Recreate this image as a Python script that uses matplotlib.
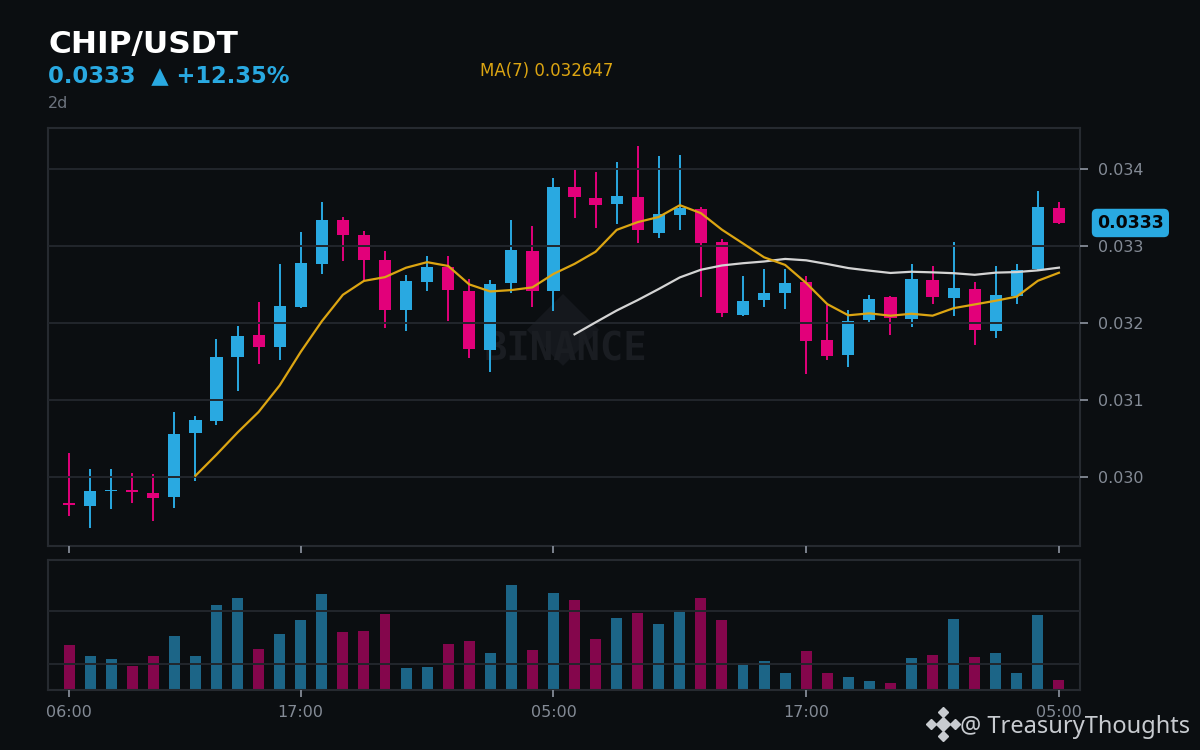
import numpy as np
import pandas as pd
import matplotlib
matplotlib.use("Agg")
import matplotlib.pyplot as plt
from matplotlib.lines import Line2D
from matplotlib.patches import Polygon
from matplotlib.ticker import FormatStrFormatter
import matplotlib.transforms as mtransforms

# --- hourly candles CHIP/USDT, 06:00 day 1 -> 05:00 day 3 ---
opens = [0.029656, 0.029627, 0.029815, 0.029831, 0.029788, 0.029744, 0.030575, 0.030731,
         0.031558, 0.031844, 0.031688, 0.032208, 0.032770, 0.033338, 0.033143, 0.032818,
         0.032173, 0.032536, 0.032727, 0.032416, 0.031653, 0.032519, 0.032935, 0.032419,
         0.033766, 0.033623, 0.033549, 0.033636, 0.033173, 0.033406, 0.033481, 0.033048,
         0.032108, 0.032303, 0.032394, 0.032532, 0.031779, 0.031588, 0.032043, 0.032338,
         0.032056, 0.032558, 0.032329, 0.032442, 0.031900, 0.032355, 0.032701, 0.033494]
highs = [0.030308, 0.030100, 0.030100, 0.030048, 0.030035, 0.030840, 0.030792, 0.031792,
         0.031961, 0.032273, 0.032766, 0.033182, 0.033571, 0.033373, 0.033195, 0.032935,
         0.032623, 0.032870, 0.032870, 0.032571, 0.032558, 0.033338, 0.033260, 0.033879,
         0.033996, 0.033961, 0.034091, 0.034299, 0.034169, 0.034182, 0.033503, 0.033091,
         0.032610, 0.032697, 0.032701, 0.032610, 0.032238, 0.032165, 0.032364, 0.032351,
         0.032766, 0.032740, 0.033052, 0.032532, 0.032740, 0.032766, 0.033714, 0.033571]
lows = [0.029497, 0.029342, 0.029588, 0.029666, 0.029432, 0.029601, 0.029952, 0.030679,
        0.031121, 0.031471, 0.031523, 0.032199, 0.032640, 0.032809, 0.032549, 0.031939,
        0.031900, 0.032419, 0.032030, 0.031549, 0.031368, 0.032394, 0.032212, 0.032160,
        0.033368, 0.033238, 0.033290, 0.033043, 0.033108, 0.033204, 0.032334, 0.032082,
        0.032095, 0.032212, 0.032186, 0.031342, 0.031523, 0.031432, 0.031991, 0.031848,
        0.031952, 0.032251, 0.032095, 0.031718, 0.031809, 0.032251, 0.032690, 0.033286]
closes = [0.029636, 0.029818, 0.029820, 0.029809, 0.029731, 0.030558, 0.030740, 0.031558,
          0.031831, 0.031688, 0.032221, 0.032779, 0.033338, 0.033147, 0.032822, 0.032173,
          0.032545, 0.032727, 0.032432, 0.031662, 0.032506, 0.032948, 0.032419, 0.033766,
          0.033640, 0.033536, 0.033649, 0.033212, 0.033416, 0.033490, 0.033043, 0.032134,
          0.032286, 0.032390, 0.032519, 0.031770, 0.031575, 0.032026, 0.032312, 0.032069,
          0.032571, 0.032342, 0.032455, 0.031913, 0.032364, 0.032688, 0.033506, 0.033299]
# volume in thousands
volumes = [865, 654, 596, 462, 654, 1038, 654, 1615, 1750, 788, 1077, 1327,
           1827, 1115, 1135, 1442, 423, 442, 885, 942, 712, 2000, 769, 1846,
           1712, 981, 1365, 1462, 1269, 1519, 1750, 1327, 481, 558, 327, 750,
           327, 250, 173, 135, 615, 673, 1346, 635, 712, 327, 1423, 192]

tick_idx = [0, 11, 23, 35, 47]
tick_labels = ["06:00", "17:00", "05:00", "17:00", "05:00"]
price_ticks = [0.030, 0.031, 0.032, 0.033, 0.034]

pair = "CHIP/USDT"
last_price = "0.0333"
change_pct = "+12.35%"
ma7_label = "MA(7) 0.032647"
period = "2d"

BG = "#0b0e11"
UP = "#29a9e1"
DOWN = "#e2007a"
GOLD = "#dca512"
GRID = "#22262c"
SPINE = "#262a30"
TXT = "#848b96"

fig = plt.figure(figsize=(12, 7.5), dpi=100, facecolor=BG)
ax = fig.add_axes([0.04, 0.272, 0.86, 0.5573], facecolor=BG)
axv = fig.add_axes([0.04, 0.08, 0.86, 0.1733], facecolor=BG)

x = np.arange(len(closes))
o = np.array(opens)
h = np.array(highs)
l = np.array(lows)
c = np.array(closes)
up = c >= o
cols = np.where(up, UP, DOWN)

# watermark
ax.add_patch(Polygon([[0.499, 0.431], [0.534, 0.517], [0.499, 0.603], [0.464, 0.517]],
                     closed=True, transform=ax.transAxes, facecolor="#15181d",
                     edgecolor="none", zorder=0.5))
ax.text(0.501, 0.470, "BINANCE", transform=ax.transAxes, ha="center", va="center",
        fontsize=28, fontweight="bold", family="DejaVu Sans Mono", color="#1a1d22", zorder=0.6)

# candles
ax.vlines(x, l, h, colors=cols, linewidth=1.4, zorder=1)
body = np.maximum(np.abs(c - o), 0.000012)
ax.bar(x, body, bottom=np.minimum(o, c), width=0.58, color=cols, linewidth=0, zorder=1.5)

# moving averages
s = pd.Series(closes)
ma7 = s.rolling(7).mean()
ma25 = s.rolling(25).mean()
ax.plot(x, ma25, color="#d4d4d4", lw=1.6, zorder=3)
ax.plot(x, ma7, color=GOLD, lw=1.6, zorder=3)

ax.set_xlim(-1, 48)
ax.set_ylim(0.029104, 0.034532)
ax.set_axisbelow(False)
ax.grid(axis="y", color=GRID, lw=1.4)
ax.yaxis.tick_right()
ax.set_yticks(price_ticks)
ax.yaxis.set_major_formatter(FormatStrFormatter("%.3f"))
ax.set_xticks(tick_idx)
ax.tick_params(axis="x", labelbottom=False, colors=TXT, length=5, width=1.3)
ax.tick_params(axis="y", colors=TXT, labelcolor=TXT, labelsize=11.5, length=6, width=1.3, pad=7)
for sp in ax.spines.values():
    sp.set_color(SPINE)
    sp.set_linewidth(1.5)

# last price tag
trans = mtransforms.blended_transform_factory(ax.transAxes, ax.transData)
ax.text(1.0165, closes[-1], last_price, transform=trans, ha="left", va="center",
        fontsize=12.5, fontweight="bold", color="#050608",
        bbox=dict(boxstyle="round,pad=0.3,rounding_size=0.3", facecolor=UP, edgecolor="none"),
        zorder=5, clip_on=False)

# volume
axv.bar(x, volumes, width=0.52, color=cols, alpha=0.57, linewidth=0, zorder=1)
axv.set_xlim(-1, 48)
axv.set_ylim(0, 2481)
axv.set_axisbelow(False)
axv.set_yticks([500, 1500])
axv.grid(axis="y", color=GRID, lw=1.4)
axv.tick_params(axis="y", length=0, labelleft=False)
axv.set_xticks(tick_idx)
axv.set_xticklabels(tick_labels)
axv.tick_params(axis="x", colors=TXT, labelcolor=TXT, labelsize=11.5, length=5, width=1.3, pad=6)
for sp in axv.spines.values():
    sp.set_color(SPINE)
    sp.set_linewidth(1.5)

# header
fig.text(0.04, 0.9293, pair, fontsize=22.5, fontweight="bold", color="white", va="baseline")
fig.text(0.04, 0.8907, f"{last_price}  \u25b2 {change_pct}", fontsize=16.3, fontweight="bold",
         color=UP, va="baseline")
fig.text(0.04, 0.856, period, fontsize=11.5, color="#6b727d", va="baseline")
fig.text(0.4, 0.8987, ma7_label, fontsize=12, color=GOLD, va="baseline")

# signature
lx, ly = 943 / 1200, 1 - 724 / 750
fig.add_artist(Line2D([lx], [ly], marker="D", markersize=7.5, color="#c8cbd0", transform=fig.transFigure))
for dx, dy in [(-12, 0), (12, 0), (0, 12), (0, -12)]:
    fig.add_artist(Line2D([lx + dx / 1200], [ly + dy / 750], marker="D", markersize=5,
                          color="#c8cbd0", transform=fig.transFigure))
fig.text(0.8, 0.0227, "@ TreasuryThoughts", fontsize=17, family="Noto Sans", color="#c8cbd0",
         va="baseline")

fig.savefig("out.png", dpi=100, facecolor=BG)
